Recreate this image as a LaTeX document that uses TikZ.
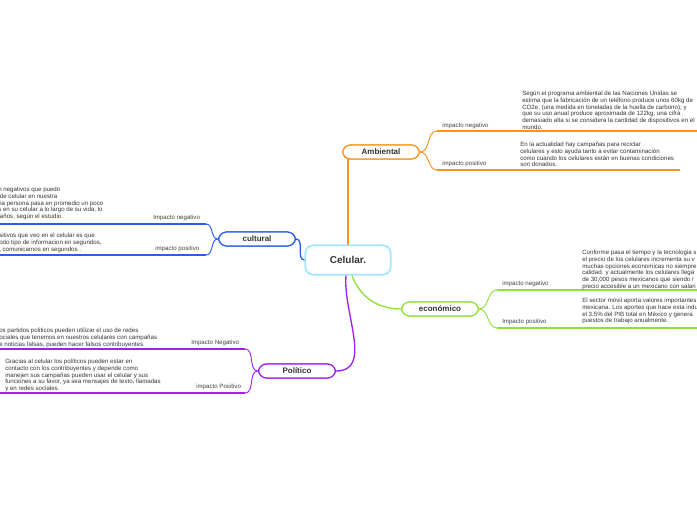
\documentclass[tikz,border=0pt]{standalone}
\usepackage{fontspec}
\setmainfont{Liberation Sans}
\begin{document}
\begin{tikzpicture}[x=0.75pt,y=-0.75pt,
  topic/.style={draw=#1,line width=0.9pt,rounded corners=6pt,fill=white,minimum width=64\pgflinewidth,inner xsep=8pt,inner ysep=3pt,font=\fontsize{6}{7}\selectfont\bfseries,text=black!80},
  lab/.style={font=\fontsize{4.6}{5}\selectfont,text=black!75,inner sep=0pt,anchor=south west},
  txt/.style={font=\fontsize{4.6}{5}\selectfont,text=black!80,inner sep=0pt,align=left,anchor=north west},
  br/.style={draw=#1,line width=1.4pt}]
\useasboundingbox (0,0) rectangle (697,520);
\clip (0,0) rectangle (697,520);
\definecolor{cor}{HTML}{F7941D}\definecolor{cbl}{HTML}{2A5FE8}
\definecolor{cgr}{HTML}{8FE03A}\definecolor{cpu}{HTML}{A020F0}
% branch end coordinates
\coordinate (a1) at (437,131); \coordinate (a1e) at (697,131);
\coordinate (a2) at (437,170); \coordinate (a2e) at (680,170);
\coordinate (c1) at (206,224); \coordinate (c1e) at (0,224);
\coordinate (c2) at (206,255); \coordinate (c2e) at (0,255);
\coordinate (e1) at (497,290); \coordinate (e1e) at (697,290);
\coordinate (e2) at (497,328); \coordinate (e2e) at (697,328);
\coordinate (p1) at (245,349); \coordinate (p1e) at (0,349);
\coordinate (p2) at (245,393); \coordinate (p2e) at (0,393);
% main nodes (placed first for anchors)
\node[topic=cor] (amb) at (381,152) {Ambiental};
\node[topic=cbl] (cul) at (257,239) {cultural};
\node[topic=cgr] (eco) at (440,309) {económico};
\node[topic=cpu] (pol) at (297,371) {Político};
\node[draw=cbl!40!cyan!40,line width=1.2pt,rounded corners=6pt,fill=white,minimum width=64pt,minimum height=22pt,inner xsep=10pt,font=\fontsize{7.5}{8}\selectfont\bfseries,text=black!80] (cel) at (348,260) {Celular.};
% connectors
\begin{scope}[on background layer/.style={}]
\draw[cor,line width=1pt] (cel.north) ++(0,0) |- (amb.west);
\draw[cbl,line width=1pt] (cel.west) to[out=180,in=0] (cul.east);
\draw[cgr,line width=1pt] (cel.south) ++(4,0) to[out=-70,in=180] (eco.west);
\draw[cpu,line width=1pt] (cel.south) ++(-2,0) to[out=-95,in=0] (pol.east);
\end{scope}
\draw[cor,line width=0.7pt] (amb.east) to[out=0,in=180] (a1) (amb.east) to[out=0,in=180] (a2);
\draw[br=cor] (a1) -- (a1e); \draw[br=cor] (a2) -- (a2e);
\draw[cbl,line width=0.7pt] (cul.west) to[out=180,in=0] (c1) (cul.west) to[out=180,in=0] (c2);
\draw[br=cbl] (c1) -- (c1e); \draw[br=cbl] (c2) -- (c2e);
\draw[cgr,line width=0.7pt] (eco.east) to[out=0,in=180] (e1) (eco.east) to[out=0,in=180] (e2);
\draw[br=cgr] (e1) -- (e1e); \draw[br=cgr] (e2) -- (e2e);
\draw[cpu,line width=0.7pt] (pol.west) to[out=180,in=0] (p1) (pol.west) to[out=180,in=0] (p2);
\draw[br=cpu] (p1) -- (p1e); \draw[br=cpu] (p2) -- (p2e);
% redraw nodes on top
\node[topic=cor] at (amb) {Ambiental};
\node[topic=cbl] at (cul) {cultural};
\node[topic=cgr] at (eco) {económico};
\node[topic=cpu] at (pol) {Político};
\node[draw=cbl!40!cyan!40,line width=1.2pt,rounded corners=6pt,fill=white,minimum width=64pt,minimum height=22pt,inner xsep=10pt,font=\fontsize{7.5}{8}\selectfont\bfseries,text=black!80] at (cel) {Celular.};
% labels
\node[lab] (la1) at (442,129) {impacto negativo};
\node[lab] (la2) at (442,167) {impacto positivo};
\node[lab] (lc1) at (153,221) {Impacto negativo};
\node[lab] (lc2) at (155,252) {impacto positivo};
\node[lab] (le1) at (502,287) {impacto negativo};
\node[lab] (le2) at (502,325) {Impacto positivo};
\node[lab] (lp1) at (191,346) {Impacto Negativo};
\node[lab] (lp2) at (196,390) {impacto Positivo};
% texts
\node[txt] (ta1) at (522,91) {Según el programa ambiental de las Naciones Unidas se\\estima que la fabricación de un teléfono produce unos 60kg de\\CO2e, (una medida en toneladas de la huella de carbono); y\\que su uso anual produce aproximada de 122kg, una cifra\\demasiado alta si se considera la cantidad de dispositivos en el\\mundo.};
\node[txt] (ta2) at (520,142) {En la actualidad hay campañas para reciclar\\celulares y esto ayuda tanto a evitar contaminación\\como cuando los celulares están en buenas condiciones\\son donados.};
\node[txt] (te1) at (582,250) {Conforme pasa el tiempo y la tecnologia s\\el precio de los celulares incrementa su v\\muchas opciones economicas no siempre\\calidad. y actualmente los celulares llega\\de 30,000 pesos mexicanos que siendo r\\precio accesible a un mexicano con salari};
\node[txt] (te2) at (582,298) {El sector móvil aporta valores importantes\\mexicana. Los aportes que hace esta indu\\el 3.5\% del PIB total en México y genera\\puestos de trabajo anualmente.};
\node[txt] (tc1) at (-2,187) {n negativos que puedo\\\ de celular en nuestra\\na persona pasa en promedio un poco\\s en su celular a lo largo de su vida, lo\\\ años, según el estudio.};
\node[txt] (tc2) at (-1,233) {sitivos que veo en el celular es que\\odo tipo de informacion en segundos,\\, comunicarnos en segundos .};
\node[txt] (tp1) at (-1,328) {os partidos politicos pueden utilizar el uso de redes\\ociales que tenemos en nuestros celulares con campañas\\e noticias falsas,  pueden hacer falsos contribuyentes.};
\node[txt] (tp2) at (5,359) {Gracias al celular los políticos pueden estar en\\contacto con los contribuyentes y depende como\\manejen sus campañas pueden usar el celular y sus\\funciones a su favor, ya sea mensajes de texto, llamadas\\y en redes sociales.};
\end{tikzpicture}
\end{document}
